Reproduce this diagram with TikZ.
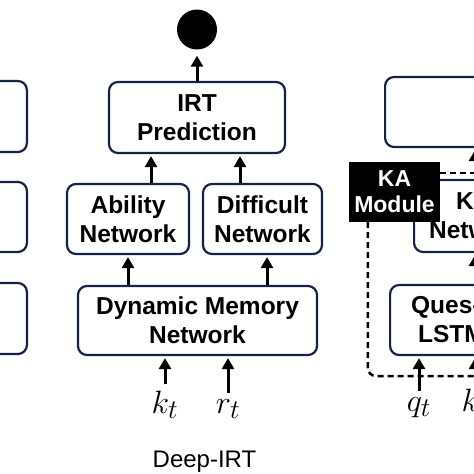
\documentclass[tikz,border=0pt]{standalone}
\usepackage{graphicx}
\usepackage{fontspec}
\setmainfont{Liberation Sans}
\definecolor{boxnavy}{RGB}{24, 34, 70}
\usetikzlibrary{arrows.meta, positioning, calc}
\newcommand{\bigvar}[1]{\scalebox{1.3}{$#1$}}

\begin{document}
\begin{tikzpicture}[x=1pt, y=-1pt,
    box/.style={draw=boxnavy, line width=2.2pt, rounded corners=9pt, align=center, inner sep=0pt, font=\fontsize{24.5}{29}\selectfont\bfseries},
    arr/.style={-{Triangle[width=12pt,length=11pt]}, line width=3pt, shorten >=2pt},
    dashline/.style={line width=2.5pt, dash pattern=on 6pt off 4pt},
    invar/.style={font=\fontsize{24.88}{30}\selectfont, inner sep=2pt, anchor=base}]

    \clip (0,0) rectangle (474,474);

    % Left column (cut off)
    \node[box, minimum width=120pt, minimum height=71pt, anchor=east] (lefttop) at (28,116.5) {};
    \node[box, minimum width=120pt, minimum height=70pt, anchor=east] (leftmid) at (28,217) {};
    \node[box, minimum width=120pt, minimum height=71pt, anchor=east] (leftbot) at (28,318.5) {};

    % Deep-IRT column
    \node[circle, fill=black, minimum size=40pt, inner sep=0pt] (out) at (197,29.5) {};
    \node[box, minimum width=176pt, minimum height=71pt] (irt) at (197,117.5) {IRT\\Prediction};
    \node[box, minimum width=122pt, minimum height=70pt] (ability) at (128,219) {Ability\\Network};
    \node[box, minimum width=119pt, minimum height=70pt] (difficult) at (262.5,219) {Difficult\\Network};
    \node[box, minimum width=239pt, minimum height=69pt] (dmn) at (197.5,320.5) {Dynamic Memory\\Network};
    \node[invar] (kt) at (165,413) {\bigvar{k_t}};
    \node[invar] (rt) at (228,413) {\bigvar{r_t}};
    \node[font=\fontsize{24}{28}\selectfont, anchor=base] (deepcap) at (204.5,467) {Deep-IRT};

    % Arrows
    \draw[arr, shorten >=6pt] (irt) -- (out);
    \draw[arr] ([xshift=-46pt]irt.south |- ability.north) -- ([xshift=-46pt]irt.south);
    \draw[arr] ([xshift=43pt]irt.south |- difficult.north) -- ([xshift=43pt]irt.south);
    \draw[arr] (ability.south |- dmn.north) -- (ability.south);
    \draw[arr] ([xshift=4.5pt]difficult.south |- dmn.north) -- ([xshift=4.5pt]difficult.south);
    \draw[arr, shorten <=4pt] (kt) -- (kt |- dmn.south);
    \draw[arr, shorten <=4pt] (rt) -- (rt |- dmn.south);

    % Right column (cut off)
    \node[box, minimum width=150pt, minimum height=70pt, anchor=west] (topbox) at (384,112) {};
    \node[box, text width=140pt, inner xsep=15pt, align=left, minimum height=72pt, anchor=west] (kanet) at (413,216) {\hspace*{27pt}K\\Network};
    \node[fill=black, text=white, minimum width=91pt, minimum height=60pt, inner sep=0pt, align=center, font=\fontsize{23}{26}\selectfont\bfseries] (kamod) at (394.5,192) {KA\\Module};
    \node[box, text width=130pt, inner xsep=21pt, align=left, minimum height=70pt, anchor=west] (lstm) at (389,320) {Ques-\\\hspace*{7pt}LSTM};
    \node[invar] (qt) at (419,411) {\bigvar{q_t}};
    \node[invar] (kt2) at (475,411) {\bigvar{k_t}};
    \coordinate (kajoin) at (475,173);
    \coordinate (loopend) at (480,376);

    \draw[dashline] (kajoin -| kamod.east) -- (kajoin);
    \draw[dashline, rounded corners=8pt] ([xshift=19pt]kamod.south west) |- (loopend);
    \draw[arr] (kajoin |- kanet.north) -- (kajoin |- topbox.south);
    \draw[arr] (kajoin |- lstm.north) -- (kajoin |- kanet.south);
    \draw[arr, shorten <=4pt] (qt) -- (qt |- lstm.south);
    \draw[arr, shorten <=4pt] (kt2) -- (kt2 |- lstm.south);
\end{tikzpicture}
\end{document}
